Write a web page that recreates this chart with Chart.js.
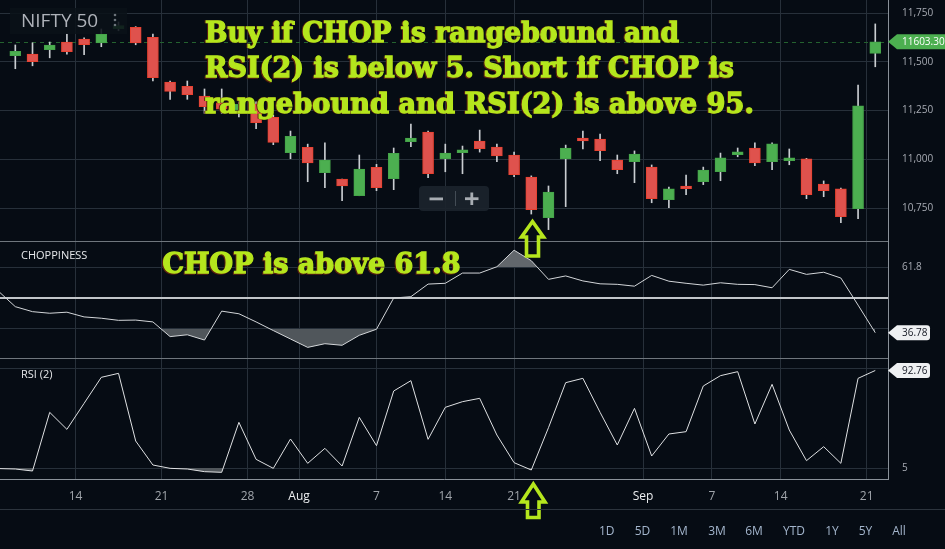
<!DOCTYPE html>
<html>
<head>
<meta charset="utf-8">
<title>NIFTY 50 - CHOP / RSI(2)</title>
<script src="https://cdn.jsdelivr.net/npm/chart.js@4.4.0/dist/chart.umd.min.js"></script>
<style>
  body { margin: 0; background: #060c14; }
  #wrap { position: relative; width: 945px; height: 549px; background: #060c14; overflow: hidden; }
  #c { position: absolute; left: 0; top: 0; }
  #over { position: absolute; left: 0; top: 0; pointer-events: none; }
</style>
</head>
<body>
<div id="wrap">
  <canvas id="c" width="945" height="509"></canvas>
  <svg id="over" width="945" height="549" xmlns="http://www.w3.org/2000/svg">
    <!-- symbol legend -->
    <rect x="10" y="8" width="117" height="26" fill="#0a1118" fill-opacity="0.88"/>
    <text x="21" y="26.5" font-family="Open Sans" font-size="19" fill="#aeb2b9">NIFTY 50</text>
    <g fill="#6c737a">
      <circle cx="115" cy="15" r="1.3"/><circle cx="115" cy="20" r="1.3"/><circle cx="115" cy="25" r="1.3"/>
    </g>

    <!-- zoom control -->
    <rect x="419" y="186" width="70" height="25" rx="4" fill="#1b242d" fill-opacity="0.92"/>
    <rect x="429.5" y="197.5" width="13.5" height="2.8" fill="#a8adb3"/>
    <line x1="455.5" y1="191" x2="455.5" y2="206" stroke="#434c55"/>
    <rect x="465" y="197.3" width="13.5" height="2.8" fill="#a8adb3"/>
    <rect x="470.4" y="192.5" width="2.8" height="12.5" fill="#a8adb3"/>

    <!-- pane titles -->
    <text x="21" y="259.3" font-family="Open Sans" font-size="11" fill="#e6e8eb">CHOPPINESS</text>
    <text x="21" y="377.5" font-family="Open Sans" font-size="11" fill="#e6e8eb">RSI (2)</text>

    <!-- annotations -->
    <g font-family="DejaVu Serif" font-weight="bold" font-size="28" fill="#5e2210" stroke="#5e2210" stroke-width="1.3">
      <text x="204" y="42.3" textLength="474" lengthAdjust="spacingAndGlyphs">Buy if CHOP is rangebound and</text>
      <text x="204" y="77.8" textLength="529" lengthAdjust="spacingAndGlyphs">RSI(2) is below 5. Short if CHOP is</text>
      <text x="204" y="113.3" textLength="549" lengthAdjust="spacingAndGlyphs">rangebound and RSI(2) is above 95.</text>
      <text x="161.5" y="274.1" textLength="298" lengthAdjust="spacingAndGlyphs">CHOP is above 61.8</text>
    </g>
    <g font-family="DejaVu Serif" font-weight="bold" font-size="28" fill="#b5e61d" stroke="#b5e61d" stroke-width="1.3">
      <text x="205" y="41.5" textLength="474" lengthAdjust="spacingAndGlyphs">Buy if CHOP is rangebound and</text>
      <text x="205" y="77" textLength="529" lengthAdjust="spacingAndGlyphs">RSI(2) is below 5. Short if CHOP is</text>
      <text x="205" y="112.5" textLength="549" lengthAdjust="spacingAndGlyphs">rangebound and RSI(2) is above 95.</text>
      <text x="162.5" y="273.3" textLength="298" lengthAdjust="spacingAndGlyphs">CHOP is above 61.8</text>
    </g>

    <!-- arrows -->
    <g fill="none" stroke="#b5e61d" stroke-width="3.6" stroke-linejoin="miter">
      <path d="M532.5 221.5 L543.5 237 L538.5 237 L538.5 256 L526.5 256 L526.5 237 L521.5 237 Z"/>
      <path d="M533.3 484 L545 502 L539 502 L539 517.5 L527.5 517.5 L527.5 502 L521.5 502 Z"/>
    </g>

    <!-- range buttons -->
    <line x1="0" y1="509.5" x2="945" y2="509.5" stroke="#2c343d"/>
    <g font-family="Open Sans" font-size="12" fill="#a3b5cc" text-anchor="middle">
      <text x="606.7" y="534.5">1D</text>
      <text x="642.5" y="534.5">5D</text>
      <text x="679" y="534.5">1M</text>
      <text x="717" y="534.5">3M</text>
      <text x="754" y="534.5">6M</text>
      <text x="794" y="534.5">YTD</text>
      <text x="832" y="534.5">1Y</text>
      <text x="865.5" y="534.5">5Y</text>
      <text x="899" y="534.5">All</text>
    </g>
  </svg>
</div>
<script>
// --- daily sessions shown (NSE, 2019) ---
const dates = ['2019-07-09','2019-07-10','2019-07-11','2019-07-12','2019-07-15','2019-07-16','2019-07-17','2019-07-18','2019-07-19',
  '2019-07-22','2019-07-23','2019-07-24','2019-07-25','2019-07-26','2019-07-29','2019-07-30','2019-07-31','2019-08-01','2019-08-02',
  '2019-08-05','2019-08-06','2019-08-07','2019-08-08','2019-08-09','2019-08-13','2019-08-14','2019-08-16','2019-08-19','2019-08-20',
  '2019-08-21','2019-08-22','2019-08-23','2019-08-26','2019-08-27','2019-08-28','2019-08-29','2019-08-30','2019-09-03','2019-09-04',
  '2019-09-05','2019-09-06','2019-09-09','2019-09-11','2019-09-12','2019-09-13','2019-09-16','2019-09-17','2019-09-18','2019-09-19',
  '2019-09-20','2019-09-23'];

const openP  = [11532, 11540, 11563, 11602, 11617, 11598, 11670, 11678, 11626, 11397, 11375, 11325, 11290, 11253, 11284, 11216, 11034,
  11062, 10931, 10899, 10813, 10959, 10900, 11090, 11140, 11003, 11034, 11094, 11063, 11022, 10909, 10700, 11002, 11109, 11104, 10996,
  10988, 10960, 10793, 10863, 10885, 10936, 11024, 11058, 10988, 10993, 11002, 10873, 10848, 10746, 11544];
const highP  = [11587, 11598, 11602, 11643, 11623, 11669, 11705, 11681, 11643, 11402, 11402, 11361, 11361, 11295, 11295, 11227, 11145,
  11078, 11084, 10899, 11022, 10974, 11058, 11181, 11145, 11078, 11068, 11150, 11078, 11037, 10915, 10863, 11073, 11145, 11130, 11022,
  11043, 10971, 10858, 10919, 10960, 11032, 11058, 11084, 11084, 11053, 11005, 10889, 10852, 11381, 11695];
const lowP   = [11465, 11480, 11521, 11540, 11537, 11578, 11660, 11588, 11403, 11308, 11308, 11236, 11236, 11217, 11157, 11075, 11003,
  10885, 10854, 10788, 10813, 10839, 10844, 11065, 10906, 10936, 10926, 11037, 10988, 10911, 10719, 10639, 10757, 11053, 10993, 10926,
  10880, 10777, 10752, 10818, 10870, 10890, 11013, 10967, 10947, 10972, 10798, 10808, 10675, 10695, 11475];
const closeP = [11554, 11501, 11587, 11552, 11588, 11643, 11687, 11598, 11419, 11349, 11332, 11270, 11257, 11282, 11188, 11087, 11118,
  10982, 10996, 10864, 10950, 10854, 11031, 11109, 10926, 11032, 11048, 11054, 11018, 10921, 10741, 10832, 11058, 11095, 11044, 10947,
  11027, 10798, 10848, 10849, 10945, 11007, 11038, 10982, 11079, 11007, 10818, 10839, 10705, 11274, 11603.30];

// indicators start one session earlier (2019-07-08), just off the left edge
const chopVals = [52.7, 46.7, 44.8, 44.2, 44.6, 42.8, 42.3, 41.5, 41.6, 40.9, 35.3, 36.0, 34.0, 45.0, 44.0, 40.9, 37.6, 34.4, 31.2,
  32.6, 32.0, 35.8, 38.1, 50.0, 50.5, 55.3, 55.6, 59.5, 59.5, 61.9, 68.2, 64.2, 57.1, 58.4, 56.5, 55.4, 55.2, 54.5, 58.6, 56.4, 55.6,
  54.9, 55.8, 55.2, 55.1, 53.9, 60.9, 59.0, 59.8, 57.6, 47.3, 36.78];
const rsiVals = [4.5, 4.1, 2.3, 55.1, 39.8, 63.2, 86.6, 90.2, 29.3, 7.7, 4.7, 4.1, 1.7, 1.1, 46.1, 12.8, 4.7, 31.1, 9.2, 22.7, 6.8,
  50.6, 25.1, 74.3, 83.6, 30.8, 59.6, 64.7, 67.7, 34.7, 9.8, 3.2, 41.3, 81.8, 85.7, 55.1, 25.7, 58.7, 15.8, 35.6, 37.7, 78.8, 88.1,
  91.7, 44.6, 80.3, 39.2, 11.6, 24.2, 9.2, 85.7, 92.76];

// axis ticks
const priceTicks = [10750, 11000, 11250, 11500, 11750];
const chopBands = [38.2, 61.8];
const chopTicks = [38.2, 50, 61.8];
const chopTickLabels = ['', '', '61.8'];
const rsiBands = [5, 95];
const rsiTickLabels = ['5', ''];
const dateTickAt = [3.5, 8.5, 13.5, 16.5, 21, 25, 29, 36.5, 40.5, 44.5, 49.5];
const dateTickLabels = ['14', '21', '28', 'Aug', '7', '14', '21', 'Sep', '7', '14', '21'];

const UP = '#4caf50', DOWN = '#df524d';
const GRID = '#27303a';
const FONT = 'Open Sans';

const isUp = dates.map((d, i) => closeP[i] >= openP[i]);
const bodies = dates.map((d, i) => ({ x: i, y: [openP[i], closeP[i]] }));
const wicks = dates.map((d, i) => ({ x: i, y: [lowP[i], highP[i]] }));
const chopLine = chopVals.map((v, k) => ({ x: k - 1, y: v }));
const rsiLine = rsiVals.map((v, k) => ({ x: k - 1, y: v }));

function drawTag(ctx, x, y, text, bg, fg, right) {
  ctx.fillStyle = bg;
  ctx.beginPath();
  ctx.moveTo(x, y);
  ctx.lineTo(x + 9, y - 7.5);
  ctx.lineTo(right - 3, y - 7.5);
  ctx.quadraticCurveTo(right, y - 7.5, right, y - 4.5);
  ctx.lineTo(right, y + 4.5);
  ctx.quadraticCurveTo(right, y + 7.5, right - 3, y + 7.5);
  ctx.lineTo(x + 9, y + 7.5);
  ctx.closePath();
  ctx.fill();
  ctx.fillStyle = fg;
  ctx.font = '10px "' + FONT + '"';
  ctx.textAlign = 'left';
  ctx.textBaseline = 'middle';
  ctx.fillText(text, x + 14, y + 0.5);
}

// no label overhang padding: panes must fill the canvas edge to edge
function noPad(s) {
  s.paddingTop = 0;
  s.paddingBottom = 0;
  s.paddingLeft = 0;
  s.paddingRight = 0;
}

const paneDecor = {
  id: 'paneDecor',
  beforeDatasetsDraw(chart) {
    // dashed last-price line sits behind the candles
    const { ctx, chartArea: a, scales } = chart;
    const py = Math.round(scales.y.getPixelForValue(closeP[closeP.length - 1])) + 0.5;
    ctx.save();
    ctx.strokeStyle = '#24622f';
    ctx.lineWidth = 1;
    ctx.setLineDash([4, 4]);
    ctx.beginPath();
    ctx.moveTo(a.left, py);
    ctx.lineTo(a.right, py);
    ctx.stroke();
    ctx.restore();
  },
  afterDraw(chart) {
    const { ctx, chartArea: a, scales } = chart;
    ctx.save();
    ctx.strokeStyle = '#6f767d';
    ctx.lineWidth = 1;
    [scales.yChop.top, scales.yRsi.top].forEach(t => {
      const yy = Math.round(t) + 0.5;
      ctx.beginPath();
      ctx.moveTo(a.left, yy);
      ctx.lineTo(a.right, yy);
      ctx.stroke();
    });
    const lastClose = closeP[closeP.length - 1];
    const lastChop = chopVals[chopVals.length - 1];
    const lastRsi = rsiVals[rsiVals.length - 1];
    drawTag(ctx, a.right, scales.y.getPixelForValue(lastClose), lastClose.toFixed(2), UP, '#ffffff', 948);
    drawTag(ctx, a.right, scales.yChop.getPixelForValue(lastChop), lastChop.toFixed(2), '#eef0f2', '#131722', 930);
    drawTag(ctx, a.right, scales.yRsi.getPixelForValue(lastRsi), lastRsi.toFixed(2), '#eef0f2', '#131722', 930);
    ctx.restore();
  }
};

const yCommon = {
  position: 'right',
  stack: 'panes',
  offset: false,
  beginAtZero: false,
  afterFit: s => { s.width = 57; noPad(s); },
  border: { display: true, color: '#8a9199' },
  ticks: { padding: 14, color: '#a7abb3', font: { family: FONT, size: 10 } }
};

new Chart(document.getElementById('c'), {
  type: 'bar',
  data: {
    datasets: [
      {
        type: 'line', label: 'CHOP', data: chopLine, yAxisID: 'yChop', order: 0,
        borderColor: '#d3d6d9', borderWidth: 1, pointRadius: 0, tension: 0,
        fill: { target: { value: chopBands[1] }, above: '#62676c', below: 'rgba(0,0,0,0)' }
      },
      {
        type: 'line', label: 'CHOP low band', data: chopLine, yAxisID: 'yChop', order: 0,
        borderColor: 'rgba(0,0,0,0)', borderWidth: 0, pointRadius: 0, tension: 0,
        fill: { target: { value: chopBands[0] }, above: 'rgba(0,0,0,0)', below: '#50565b' }
      },
      {
        type: 'line', label: 'RSI (2)', data: rsiLine, yAxisID: 'yRsi', order: 0,
        borderColor: '#dfe1e3', borderWidth: 1, pointRadius: 0, tension: 0,
        fill: { target: { value: rsiBands[0] }, above: 'rgba(0,0,0,0)', below: '#50565b' }
      },
      {
        label: 'body', data: bodies, yAxisID: 'y', order: 1, grouped: false,
        barThickness: 11, minBarLength: 1, borderSkipped: false, borderWidth: 1,
        backgroundColor: isUp.map(u => (u ? UP : DOWN)),
        borderColor: isUp.map(u => (u ? '#45a449' : '#e8412f'))
      },
      {
        label: 'wick', data: wicks, yAxisID: 'y', order: 2, grouped: false,
        barThickness: 1, borderWidth: 0, backgroundColor: '#c9cdd1'
      }
    ]
  },
  options: {
    responsive: false,
    animation: false,
    layout: { padding: 0 },
    plugins: { legend: { display: false }, tooltip: { enabled: false } },
    scales: {
      x: {
        type: 'linear',
        min: -0.89,
        max: 50.74,
        offset: false,
        afterBuildTicks: s => { s.ticks = dateTickAt.map(v => ({ value: v })); },
        afterFit: s => { s.height = 30; noPad(s); },
        grid: { color: GRID, drawTicks: false, offset: false },
        border: { display: true, color: '#8a9199' },
        ticks: {
          autoSkip: false, maxRotation: 0, padding: 10,
          callback: (v, i) => dateTickLabels[i],
          color: c => (['Aug', 'Sep'].includes(dateTickLabels[c.index]) ? '#eceef0' : '#a0a5ab'),
          font: { family: FONT, size: 12 }
        }
      },
      y: Object.assign({}, yCommon, {
        weight: 1, stackWeight: 241,
        min: 10580.6, max: 11817.8,
        afterBuildTicks: s => { s.ticks = priceTicks.map(v => ({ value: v })); },
        grid: { color: GRID, drawTicks: false }
      }),
      yChop: Object.assign({}, yCommon, {
        weight: 2, stackWeight: 117,
        min: 27.16, max: 71.7,
        afterBuildTicks: s => { s.ticks = chopTicks.map(v => ({ value: v })); },
        grid: {
          drawTicks: false,
          color: c => (c.tick && c.tick.value === chopTicks[1] ? '#c2c6ca' : GRID),
          lineWidth: c => (c.tick && c.tick.value === chopTicks[1] ? 2 : 1)
        },
        ticks: Object.assign({}, yCommon.ticks, { callback: (v, i) => chopTickLabels[i] })
      }),
      yRsi: Object.assign({}, yCommon, {
        weight: 3, stackWeight: 121,
        min: -4.9, max: 104,
        afterBuildTicks: s => { s.ticks = rsiBands.map(v => ({ value: v })); },
        grid: { color: GRID, drawTicks: false },
        ticks: Object.assign({}, yCommon.ticks, { callback: (v, i) => rsiTickLabels[i] })
      })
    }
  },
  plugins: [paneDecor]
});
</script>
</body>
</html>
